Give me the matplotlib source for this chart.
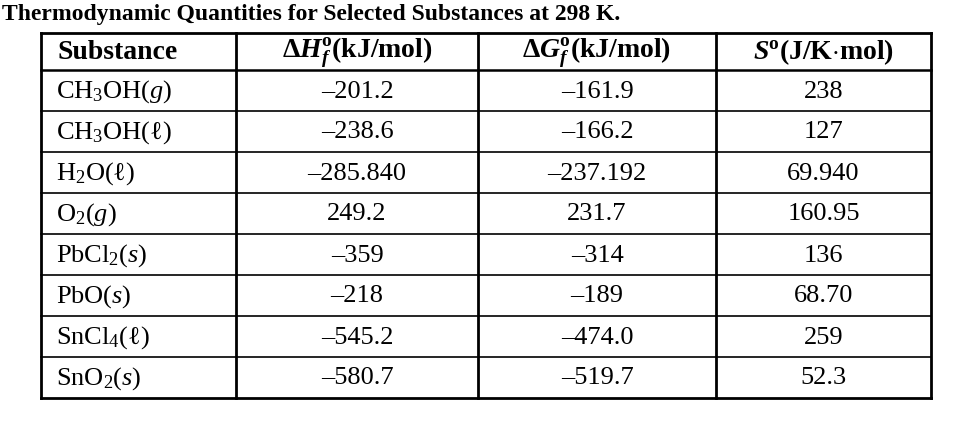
import matplotlib.pyplot as plt

plt.rcParams['font.family'] = ['Liberation Serif', 'DejaVu Serif']
plt.rcParams['mathtext.fontset'] = 'custom'
plt.rcParams['mathtext.rm'] = 'Liberation Serif'
plt.rcParams['mathtext.it'] = 'Liberation Serif:italic'
plt.rcParams['mathtext.bf'] = 'Liberation Serif:bold'
plt.rcParams['mathtext.bfit'] = 'Liberation Serif:bold:italic'

title = "Thermodynamic Quantities for Selected Substances at 298 K."
headers = ["Substance",
           r"$\mathbf{\Delta}\mathbfit{H}^{\mathbf{o}}_{\mathbfit{f}}\mathbf{(kJ/mol)}$",
           r"$\mathbf{\Delta}\mathbfit{G}^{\mathbf{o}}_{\mathbfit{f}}\mathbf{(kJ/mol)}$",
           r"$\mathbfit{S}^{\mathbf{o}}\mathbf{(J/K{\cdot}mol)}$"]
substances = [r"CH$_3$OH($\it{g}$)", r"CH$_3$OH(ℓ)", r"H$_2$O(ℓ)", r"O$_2$($\it{g}$)",
              r"PbCl$_2$($\it{s}$)", r"PbO($\it{s}$)", r"SnCl$_4$(ℓ)", r"SnO$_2$($\it{s}$)"]
dH = ["–201.2", "–238.6", "–285.840", "249.2", "–359", "–218", "–545.2", "–580.7"]
dG = ["–161.9", "–166.2", "–237.192", "231.7", "–314", "–189", "–474.0", "–519.7"]
S = ["238", "127", "69.940", "160.95", "136", "68.70", "259", "52.3"]

fig = plt.figure(figsize=(9.72, 4.48), dpi=100)
ax = fig.add_axes([0, 0, 1, 1])
ax.set_xlim(0, 972)
ax.set_ylim(448, 0)
ax.axis('off')

ax.text(2, 20, title, ha='left', va='baseline', fontsize=17, fontweight='bold')

cols = [41, 236, 478, 716, 931]
top, head_bot, bot = 33, 70, 398
rh = (bot - head_bot) / len(substances)
lw = 2
for x in cols:
    ax.plot([x, x], [top, bot], color='black', lw=lw, solid_capstyle='projecting')
ax.plot([cols[0], cols[-1]], [top, top], color='black', lw=lw, solid_capstyle='projecting')
ax.plot([cols[0], cols[-1]], [bot, bot], color='black', lw=lw, solid_capstyle='projecting')
for i in range(len(substances)):
    y = head_bot + i * rh
    ax.plot([cols[0], cols[-1]], [y, y], color='black', lw=1.2 if i else 1.8)

hy = (top + head_bot) / 2 + 1
ax.text(57, hy, headers[0], ha='left', va='center', fontsize=20, fontweight='bold')
for j in range(1, 4):
    ax.text((cols[j] + cols[j + 1]) / 2, hy, headers[j], ha='center', va='center', fontsize=20)

for i, name in enumerate(substances):
    y = head_bot + (i + 0.5) * rh + 1
    ax.text(56, y, name, ha='left', va='center', fontsize=19)
    for j, col in enumerate([dH, dG, S], start=1):
        ax.text((cols[j] + cols[j + 1]) / 2, y, col[i], ha='center', va='center', fontsize=19)

fig.savefig('out.png', dpi=100)
